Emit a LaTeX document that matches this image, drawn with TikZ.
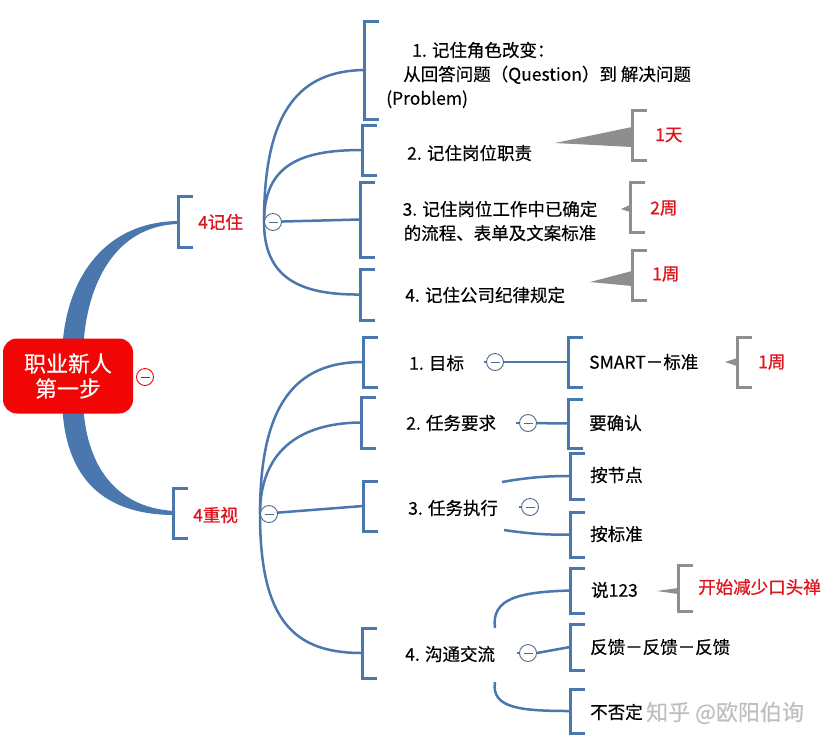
\documentclass[tikz,border=0pt]{standalone}
\usepackage{fontspec}
\setmainfont{Noto Sans CJK SC}[FakeBold=0.35]
\newfontfamily\redfont{Noto Sans CJK SC}[FakeBold=0.9]
\definecolor{brblue}{HTML}{4A77AE}
\definecolor{cgray}{HTML}{8E8E8E}
\definecolor{rootred}{HTML}{F20505}
\definecolor{txtred}{HTML}{E0141C}
\definecolor{circ}{HTML}{4E6A8E}
\newcommand\mybrk[5]{%
  \draw[#2] (#3+15,#4) -- (#3,#4) -- (#3,#5) -- (#3+15,#5);
  \coordinate (#1) at (#3,{(#4+#5)/2});}
\tikzset{
  conn/.style={brblue, line width=2.5pt},
  brk/.style={brblue, line width=3pt},
  gbrk/.style={cgray, line width=3pt},
  coll/.style={circle, draw=circ, line width=0.9pt, fill=white, minimum size=17pt, inner sep=0pt,
    path picture={\draw[circ, line width=0.9pt] ([xshift=-4.5pt]path picture bounding box.center) -- ([xshift=4.5pt]path picture bounding box.center);}},
  rcoll/.style={coll, draw=rootred, path picture={\draw[rootred, line width=0.9pt] ([xshift=-4.5pt]path picture bounding box.center) -- ([xshift=4.5pt]path picture bounding box.center);}},
  txt/.style={anchor=west, inner sep=0pt, font=\fontsize{17.5}{24}\selectfont},
  rtxt/.style={anchor=west, inner sep=0pt, text=txtred, font=\redfont\fontsize{17.5}{24}\selectfont},
  root/.style={rounded corners=14pt, fill=rootred, text=white, minimum width=130pt, minimum height=75pt,
    align=center, font=\fontsize{22}{25}\selectfont},
}
\begin{document}
\begin{tikzpicture}[x=1pt, y=-1pt]
\path[use as bounding box, fill=white] (0,0) rectangle (832,748);

% trunk
\fill[brblue] (62,360) .. controls (62,285) and (100,222) .. (178,221) -- (178,224) .. controls (112,226) and (83,290) .. (83,360) -- cycle;
\fill[brblue] (62,395) .. controls (62,475) and (100,515) .. (175,515) -- (175,511) .. controls (112,508) and (83,460) .. (83,395) -- cycle;

% top level brackets
\mybrk{bA}{brk}{178}{196}{247}
\mybrk{bB}{brk}{173}{488}{538}
\node[rtxt] (tA) at (198,222) {4记住};
\node[rtxt] (tB) at (193,515) {4重视};

% group A
\coordinate (hubA) at (264,222);
\mybrk{bA1}{brk}{364}{21}{119}
\mybrk{bA2}{brk}{362}{125}{175}
\mybrk{bA3}{brk}{360}{182}{257}
\mybrk{bA4}{brk}{360}{269}{320}
\draw[conn] (hubA) .. controls (264,110) and (300,71) .. (bA1);
\draw[conn] (hubA) .. controls (264,165) and (300,150) .. (bA2);
\draw[conn] (hubA) -- (bA3);
\draw[conn] (hubA) .. controls (264,278) and (300,295) .. (bA4);
\node[coll] (cA) at (273,222) {};

\node[txt, align=left] (tA1) at (386,75) {\hspace*{26pt}1. 记住角色改变：\\\hspace*{17pt}从回答问题（Question）到 解决问题\\(Problem)};
\node[txt] (tA2) at (407,153) {2. 记住岗位职责};
\node[txt, anchor=center, align=center] (tA3) at (500,221) {3. 记住岗位工作中已确定\\的流程、表单及文案标准};
\node[txt] (tA4) at (405,295) {4. 记住公司纪律规定};

% gray callouts group A
\mybrk{gA2}{gbrk}{632}{110}{160}
\mybrk{gA3}{gbrk}{630}{182}{232}
\mybrk{gA4}{gbrk}{632}{250}{300}
\coordinate (wA2) at (555,143);
\coordinate (wA3) at (621,209);
\coordinate (wA4) at (590,282);
\fill[cgray] (wA2) -- (632,127) -- (632,147) -- cycle;
\fill[cgray] (wA3) -- (630,205) -- (630,212) -- cycle;
\fill[cgray] (wA4) -- (632,271) -- (632,286) -- cycle;
\node[rtxt] (rA2) at (655,135) {1天};
\node[rtxt] (rA3) at (650,208) {2周};
\node[rtxt] (rA4) at (652,274) {1周};

% group B
\coordinate (hubB) at (260,514);
\mybrk{bB1}{brk}{363}{337}{387}
\mybrk{bB2}{brk}{361}{397}{448}
\mybrk{bB3}{brk}{363}{481}{531}
\mybrk{bB4}{brk}{362}{628}{678}
\draw[conn] (hubB) .. controls (260,405) and (295,362) .. (bB1);
\draw[conn] (hubB) .. controls (260,455) and (295,423) .. (bB2);
\draw[conn] (hubB) -- (bB3);
\draw[conn] (hubB) .. controls (260,622) and (295,653) .. (bB4);
\node[coll] (cB) at (269,514) {};

\node[txt] (tB1) at (409,363) {1. 目标};
\node[txt] (tB2) at (406,423) {2. 任务要求};
\node[txt] (tB3) at (408,508) {3. 任务执行};
\node[txt] (tB4) at (405,654) {4. 沟通交流};

% level 3
\mybrk{s1}{brk}{568}{337}{387}
\mybrk{s2}{brk}{568}{399}{448}
\mybrk{s3a}{brk}{570}{453}{499}
\mybrk{s3b}{brk}{570}{512}{557}
\mybrk{s4a}{brk}{570}{568}{613}
\mybrk{s4b}{brk}{570}{624}{670}
\mybrk{s4c}{brk}{570}{689}{733}

\coordinate (k1) at (484,362);
\coordinate (k2) at (516,423);
\coordinate (k3) at (519,507);
\coordinate (k4) at (517,653);
\node[coll] (cB1) at (495,362) {};
\node[coll] (cB2) at (528,423) {};
\node[coll] (cB3) at (530,507) {};
\node[coll] (cB4) at (528,653) {};
\draw[conn] (cB1) -- (s1);
\draw[conn] (cB2) -- (s2);
\draw[conn] (cB4.east) -- (s4b);
\draw[brblue, line width=2pt] (k1) -- (cB1.west);
\draw[brblue, line width=2pt] (k2) -- (cB2.west);
\draw[brblue, line width=2pt] (k3) -- (cB3.west);
\draw[brblue, line width=2pt] (k4) -- (cB4.west);

\coordinate (e3a) at (502,482);
\coordinate (e3b) at (504,530);
\draw[conn] (e3a) .. controls (530,477) and (550,476) .. (s3a);
\draw[conn] (e3b) .. controls (530,534) and (550,535) .. (s3b);
\coordinate (e4a) at (495,628);
\coordinate (e4c) at (495,682);
\draw[conn] (e4a) .. controls (491,598) and (520,592) .. (s4a);
\draw[conn] (e4c) .. controls (491,708) and (520,711) .. (s4c);

\node[txt] (u1) at (589,362) {SMART－标准};
\node[txt] (u2) at (589,423) {要确认};
\node[txt] (u3a) at (590,475) {按节点};
\node[txt] (u3b) at (590,534) {按标准};
\node[txt] (u4a) at (591,590) {说123};
\node[txt] (u4b) at (590,647) {反馈－反馈－反馈};
\node[txt] (u4c) at (590,712) {不否定};

% gray callouts group B
\mybrk{gB1}{gbrk}{737}{337}{387}
\mybrk{gB4}{gbrk}{678}{565}{611}
\coordinate (wB1) at (725,362);
\coordinate (wB4) at (657,591);
\fill[cgray] (wB1) -- (737,358) -- (737,366) -- cycle;
\fill[cgray] (wB4) -- (678,588) -- (678,594) -- cycle;
\node[rtxt] (rB1) at (758,362) {1周};
\node[rtxt] (rB4) at (698,587) {开始减少口头禅};

% root
\node[root] (root) at (68,376) {职业新人\\第一步};
\node[rcoll] (croot) at (145,377) {};

% watermark
\node[txt, text=black!25, font=\fontsize{22}{26}\selectfont] (wm) at (646,713) {知乎 @欧阳伯询};
\end{tikzpicture}
\end{document}
